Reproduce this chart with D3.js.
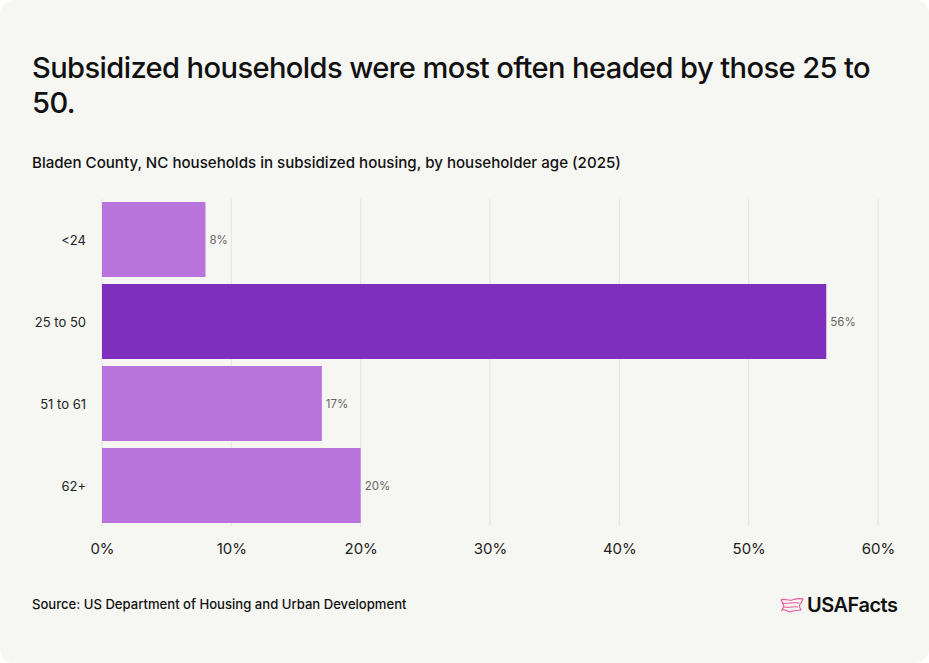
<!DOCTYPE html>
<html><head><meta charset="utf-8">
<script src="https://cdn.jsdelivr.net/npm/d3@7"></script>
<style>
html,body{margin:0;padding:0;background:#ffffff;}
svg{display:block;font-family:Inter,"Noto Sans",sans-serif;}
</style></head>
<body>
<svg id="c" width="929" height="663"></svg>
<script>
const categories = ["<24", "25 to 50", "51 to 61", "62+"];
const values = [8, 56, 17, 20];
const highlight = [false, true, false, false];
const tickValues = [0, 10, 20, 30, 40, 50, 60];
const titleLines = ["Subsidized households were most often headed by those 25 to", "50."];
const subtitle = "Bladen County, NC households in subsidized housing, by householder age (2025)";
const source = "Source: US Department of Housing and Urban Development";

const svg = d3.select("#c");
const W = 929, H = 663;
svg.append("rect").attr("x",0).attr("y",0).attr("width",W).attr("height",H).attr("rx",14).attr("fill","#f6f6f2");

const title = svg.append("text").attr("x",32).attr("y",78).attr("fill","#111").attr("font-size",29.1).attr("font-weight",500).attr("letter-spacing","-0.6");
titleLines.forEach((t,i)=>title.append("tspan").attr("x",32).attr("y",78+35*i).text(t));

svg.append("text").attr("x",32).attr("y",168).attr("fill","#111").attr("font-size",15.1).attr("font-weight",500).attr("letter-spacing","0").text(subtitle);

const x = d3.scaleLinear().domain([0,60]).range([102,878]);
const y = d3.scaleBand().domain(categories).range([202,523]).paddingInner(7/82).paddingOuter(0);

const g = svg.append("g");
g.selectAll("line.grid").data(tickValues).join("line").attr("class","grid")
  .attr("x1",d=>x(d)).attr("x2",d=>x(d)).attr("y1",199).attr("y2",526)
  .attr("stroke","#e3e3df").attr("stroke-width",1);

g.selectAll("rect.bar").data(values).join("rect").attr("class","bar")
  .attr("x",x(0)).attr("y",(d,i)=>y(categories[i]))
  .attr("width",d=>x(d)-x(0)).attr("height",y.bandwidth())
  .attr("fill",(d,i)=>highlight[i]?"#7e2fbd":"#b973dc");

g.selectAll("text.val").data(values).join("text").attr("class","val")
  .attr("x",d=>x(d)+4).attr("y",(d,i)=>y(categories[i])+y.bandwidth()/2+4)
  .attr("fill","#666").attr("font-size",11.5).text(d=>d+"%");

g.selectAll("text.cat").data(categories).join("text").attr("class","cat")
  .attr("x",86).attr("y",d=>y(d)+y.bandwidth()/2+5)
  .attr("text-anchor","end").attr("fill","#222").attr("font-size",13).text(d=>d);

const ax = svg.append("g").attr("transform","translate(0,540)")
  .call(d3.axisBottom(x).tickValues(tickValues).tickFormat(d=>d+"%").tickSize(0).tickPadding(0));
ax.select(".domain").remove();
ax.selectAll("text").attr("font-size",15).attr("fill","#222").attr("font-family","Inter,'Noto Sans',sans-serif").attr("dy","0.9em");

svg.append("text").attr("x",32).attr("y",609).attr("fill","#111").attr("font-size",13.1).attr("font-weight",500).attr("letter-spacing","0").text(source);

// logo
const logo = svg.append("g").attr("transform","translate(780,597)");
logo.append("path").attr("d","M1,3 C4,1 8,4 12,3 C15,2 19,1 23,2 L21,6 C19,7 19,10 21,13 C17,14 13,13 10,15 C7,14 4,12 2,13 L4,9 Z M3,6 C8,7 13,5 19,6 M4,10 C9,11 14,9 18,10")
  .attr("fill","none").attr("stroke","#e8559b").attr("stroke-width",1.1);
svg.append("text").attr("x",807).attr("y",612).attr("fill","#111").attr("font-size",20).attr("font-weight",600).attr("letter-spacing","-0.5").text("USAFacts");
</script>
</body></html>
